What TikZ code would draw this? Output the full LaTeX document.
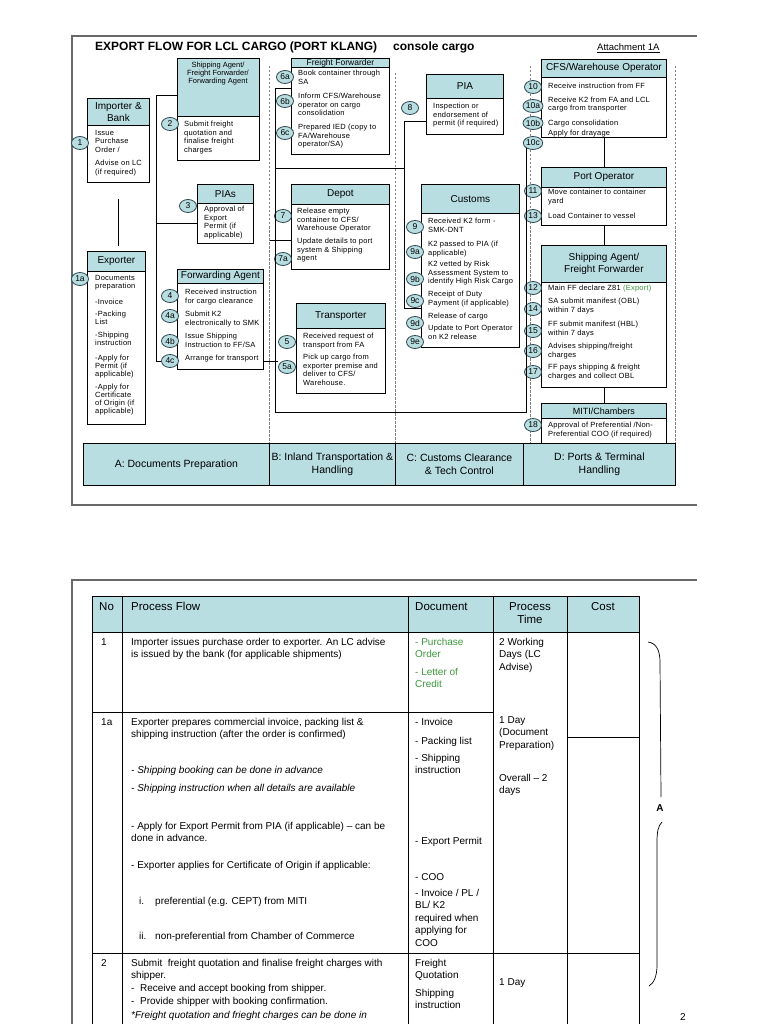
\documentclass[tikz,border=0pt]{standalone}
\usepackage{fontspec}
\setmainfont{Liberation Sans}
\newfontfamily\spacedsans[LetterSpace=3]{Liberation Sans}
\usetikzlibrary{shapes.geometric}

\definecolor{hdrfill}{RGB}{185,222,226}
\definecolor{numline}{RGB}{45,70,80}
\definecolor{docgreen}{RGB}{60,150,60}
\definecolor{framegray}{RGB}{105,105,105}

\newcommand{\smalltxt}{\spacedsans\fontsize{7.5}{8.6}\selectfont}
\newcommand{\headtxt}{\fontsize{10}{11.5}\selectfont}
\newcommand{\numtxt}{\fontsize{8.5}{9}\selectfont}
\newcommand{\secttxt}{\fontsize{10.5}{12.5}\selectfont}
\newcommand{\celltxt}{\fontsize{10}{12.5}\selectfont}
\newcommand{\cellhead}{\fontsize{11.5}{13.5}\selectfont}

\begin{document}
\begin{tikzpicture}[x=1pt, y=-1pt,
    hdr/.style={draw, line width=0.8pt, fill=hdrfill, anchor=north west, inner sep=1pt, align=center, font=\headtxt},
    bdy/.style={draw, line width=0.8pt, fill=white, anchor=north west, inner sep=0pt},
    num/.style={ellipse, draw=numline, line width=0.8pt, fill=hdrfill, inner sep=0pt, minimum width=17, minimum height=13, font=\numtxt},
    dtext/.style={anchor=north west, align=left, inner sep=0pt, font=\smalltxt},
    link/.style={line width=0.7pt},
    sepline/.style={draw=gray, line width=0.9pt, dash pattern=on 2.5pt off 1.5pt},
    sect/.style={draw, line width=0.8pt, fill=hdrfill, anchor=north west, align=center, inner sep=0pt, font=\secttxt},
    cell/.style={anchor=north west, align=left, inner sep=0pt, font=\celltxt},
    grid/.style={line width=0.8pt}]

\path[use as bounding box, fill=white] (0,0) rectangle (768,1024);

% top sheet
\draw[framegray, line width=1.5pt] (697,36) -- (72,36) -- (72,505) -- (697,505);
\node[anchor=west, inner sep=0pt, font=\bfseries\fontsize{12}{14}\selectfont] (title) at (95,47) {EXPORT FLOW FOR LCL CARGO (PORT KLANG)};
\node[anchor=west, inner sep=0pt, font=\bfseries\fontsize{12}{14}\selectfont] (subtitle) at (393,47) {console cargo};
\node[anchor=west, inner sep=0pt, font=\fontsize{9.5}{11}\selectfont] (attach) at (597,48) {\underline{Attachment 1A}};

% stage separators
\draw[sepline] (269,66) -- (269,443);
\draw[sepline] (395,73) -- (395,443);
\draw[sepline] (530,66) -- (530,443);
\draw[sepline] (675,66) -- (675,443);

% importer
\node[hdr, minimum width=62, minimum height=27] (impH) at (87,98) {Importer \&\\Bank};
\node[bdy, minimum width=62, minimum height=57] (impB) at (87,125) {};
\node[dtext] (impT1) at (95,130) {Issue\\Purchase\\Order /};
\node[dtext] (impT2) at (95,160) {Advise on LC\\(if required)};

% shipping agent (left)
\node[hdr, minimum width=82, minimum height=58] (saH) at (177,58) {};
\node[align=center, inner sep=0pt, anchor=north, font=\fontsize{7.5}{7.8}\selectfont] (saHT) at (218,62) {Shipping Agent/\\Freight Forwarder/\\Forwarding Agent};
\node[bdy, minimum width=82, minimum height=44] (saB) at (177,116) {};
\node[dtext] (saT) at (184,121) {Submit freight\\quotation and\\finalise freight\\charges};

% freight forwarder
\node[hdr, minimum width=98, minimum height=9, inner sep=0pt, font=\fontsize{8.5}{9}\selectfont] (ffH) at (291,58) {Freight Forwarder};
\node[bdy, minimum width=98, minimum height=87] (ffB) at (291,67) {};
\node[dtext] (ffT1) at (298,70) {Book container through\\SA};
\node[dtext] (ffT2) at (298,93) {Inform CFS/Warehouse\\operator on cargo\\consolidation};
\node[dtext] (ffT3) at (298,124) {Prepared IED (copy to\\FA/Warehouse\\operator/SA)};

% PIA
\node[hdr, minimum width=77, minimum height=24] (piaH) at (426,74) {PIA};
\node[bdy, minimum width=77, minimum height=36] (piaB) at (426,98) {};
\node[dtext] (piaT) at (433,103) {Inspection or\\endorsement of\\permit (if required)};

% CFS / warehouse
\node[hdr, minimum width=125, minimum height=18] (cfsH) at (541,59) {CFS/Warehouse Operator};
\node[bdy, minimum width=125, minimum height=60] (cfsB) at (541,77) {};
\node[dtext] (cfsT1) at (548,83) {Receive instruction from FF};
\node[dtext, font=\spacedsans\fontsize{7.5}{7.6}\selectfont] (cfsT2) at (548,97) {Receive K2 from FA and LCL\\cargo from transporter};
\node[dtext] (cfsT3) at (548,120) {Cargo consolidation};
\node[dtext] (cfsT4) at (548,130) {Apply for drayage};

% port operator
\node[hdr, minimum width=125, minimum height=20] (poH) at (541,167) {Port Operator};
\node[bdy, minimum width=125, minimum height=38] (poB) at (541,187) {};
\node[dtext] (poT1) at (548,189) {Move container to container\\yard};
\node[dtext] (poT2) at (548,213) {Load Container to vessel};

% shipping agent (right)
\node[hdr, minimum width=125, minimum height=37] (sa2H) at (541,245) {Shipping Agent/\\Freight Forwarder};
\node[bdy, minimum width=125, minimum height=105] (sa2B) at (541,282) {};
\node[dtext] (sa2T1) at (548,285) {Main FF declare Z81 \textcolor{docgreen}{(Export)}};
\node[dtext] (sa2T2) at (548,298) {SA submit manifest (OBL)\\within 7 days};
\node[dtext] (sa2T3) at (548,321) {FF submit manifest (HBL)\\within 7 days};
\node[dtext] (sa2T4) at (548,343) {Advises shipping/freight\\charges};
\node[dtext] (sa2T5) at (548,364) {FF pays shipping \& freight\\charges and collect OBL};

% MITI
\node[hdr, minimum width=125, minimum height=15, font=\fontsize{9}{10}\selectfont] (mitiH) at (541,403) {MITI/Chambers};
\node[bdy, minimum width=125, minimum height=25] (mitiB) at (541,418) {};
\node[dtext] (mitiT) at (548,422) {Approval of Preferential /Non-\\Preferential COO (if required)};

% PIAs
\node[hdr, minimum width=56, minimum height=19] (piasH) at (197,184) {PIAs};
\node[bdy, minimum width=56, minimum height=40] (piasB) at (197,203) {};
\node[dtext] (piasT) at (204,206) {Approval of\\Export\\Permit (if\\applicable)};

% exporter
\node[hdr, minimum width=58, minimum height=20] (expH) at (87,251) {Exporter};
\node[bdy, minimum width=58, minimum height=153] (expB) at (87,271) {};
\node[dtext, font=\spacedsans\fontsize{7.5}{8}\selectfont] (expT) at (95,275) {Documents\\preparation\\[8pt]-Invoice\\[4pt]-Packing\\List\\[5pt]-Shipping\\instruction\\[7pt]-Apply for\\Permit (if\\applicable)\\[5pt]-Apply for\\Certificate\\of Origin (if\\applicable)};

% forwarding agent
\node[hdr, minimum width=86, minimum height=14, inner sep=0pt] (faH) at (177,269) {Forwarding Agent};
\node[bdy, minimum width=86, minimum height=86] (faB) at (177,283) {};
\node[dtext] (faT1) at (185,289) {Received instruction\\for cargo clearance};
\node[dtext] (faT2) at (185,311) {Submit K2\\electronically to SMK};
\node[dtext] (faT3) at (185,333) {Issue Shipping\\Instruction to FF/SA};
\node[dtext] (faT4) at (185,355) {Arrange for transport};

% depot
\node[hdr, minimum width=98, minimum height=20] (depH) at (291,184) {Depot};
\node[bdy, minimum width=98, minimum height=65] (depB) at (291,204) {};
\node[dtext] (depT1) at (297,208) {Release empty\\container to CFS/\\Warehouse Operator};
\node[dtext] (depT2) at (297,238) {Update details to port\\system \& Shipping\\agent};

% transporter
\node[hdr, minimum width=89, minimum height=25] (trH) at (296,303) {Transporter};
\node[bdy, minimum width=89, minimum height=65] (trB) at (296,328) {};
\node[dtext] (trT1) at (303,333) {Received request of\\transport from FA};
\node[dtext] (trT2) at (303,354) {Pick up cargo from\\exporter premise and\\deliver to CFS/\\Warehouse.};

% customs
\node[hdr, minimum width=98, minimum height=29] (cusH) at (421,184) {Customs};
\node[bdy, minimum width=98, minimum height=134] (cusB) at (421,213) {};
\node[dtext] (cusT1) at (428,218) {Received K2 form -\\SMK-DNT};
\node[dtext] (cusT2) at (428,241) {K2 passed to PIA (if\\applicable)};
\node[dtext] (cusT3) at (428,261) {K2 vetted by Risk\\Assessment System to\\identify High Risk Cargo};
\node[dtext] (cusT4) at (428,291) {Receipt of Duty\\Payment (if applicable)};
\node[dtext] (cusT5) at (428,313) {Release of cargo};
\node[dtext] (cusT6) at (428,325) {Update to Port Operator\\on K2 release};

% stages
\node[sect, minimum width=186, minimum height=42] (secA) at (83,443) {A: Documents Preparation};
\node[sect, minimum width=126, minimum height=42] (secB) at (269,443) {B: Inland Transportation \&\\Handling};
\node[sect, minimum width=128, minimum height=42] (secC) at (395,443) {C: Customs Clearance\\\& Tech Control};
\node[sect, minimum width=152, minimum height=42] (secD) at (523,443) {D: Ports \& Terminal\\Handling};

% step numbers
\node[num] (n1) at (80,143) {1};
\node[num] (n2) at (170,124) {2};
\node[num] (n3) at (188,206) {3};
\node[num] (n1a) at (80,279) {1a};
\node[num] (n4) at (170,296) {4};
\node[num] (n4a) at (170,316) {4a};
\node[num] (n4b) at (170,341) {4b};
\node[num] (n4c) at (170,361) {4c};
\node[num] (n6a) at (285,77) {6a};
\node[num] (n6b) at (285,101) {6b};
\node[num] (n6c) at (285,133) {6c};
\node[num] (n7) at (283,216) {7};
\node[num] (n7a) at (283,259) {7a};
\node[num] (n5) at (287,342) {5};
\node[num] (n5a) at (287,367) {5a};
\node[num] (n8) at (410,108) {8};
\node[num] (n9) at (415,227) {9};
\node[num] (n9a) at (415,252) {9a};
\node[num] (n9b) at (415,279) {9b};
\node[num] (n9c) at (415,301) {9c};
\node[num] (n9d) at (415,323) {9d};
\node[num] (n9e) at (415,342) {9e};
\node[num] (n10) at (533,87) {10};
\node[num] (n10a) at (533,106) {10a};
\node[num] (n10b) at (533,123) {10b};
\node[num] (n10c) at (533,143) {10c};
\node[num] (n11) at (533,191) {11};
\node[num] (n13) at (533,216) {13};
\node[num] (n12) at (533,288) {12};
\node[num] (n14) at (533,309) {14};
\node[num] (n15) at (533,331) {15};
\node[num] (n16) at (533,351) {16};
\node[num] (n17) at (533,372) {17};
\node[num] (n18) at (533,425) {18};

% connectors
\draw[link, shorten <=16pt, shorten >=5pt] (impB.south) -- (impB.south |- expH.north);
\coordinate (spine) at (156,95);
\draw[link] (spine -| saH.west) -- (spine) -- (spine |- n4c) -- (n4c.west);
\draw[link] (spine |- piasB.west) -- (piasB.west);
\draw[link] (n4c -| faB.east) -- (n4c -| n5a.west);
\coordinate (bus) at (275,88);
\coordinate (busMid) at (275,168);
\coordinate (busEnd) at (275,412);
\draw[link] (bus -| ffB.west) -- (bus) -- (busEnd) -| (n10c.south west);
\draw[link] (busMid) -- (busMid -| 404,0);
\coordinate (piaBus) at (404,121);
\draw[link] (piaBus -| piaB.west) -- (piaBus) |- (n9c.south -| cusB.west);
\coordinate (depIn) at (270,240);
\draw[link] (depIn) -- (depIn -| depB.west);
\draw[link] (cfsB.south) -- (poH.north);
\draw[link] (poB.south) -- (sa2H.north);
\draw[link] (sa2B.south) -- (mitiH.north);

% table sheet
\draw[framegray, line width=1.5pt] (697,580) -- (72,580) -- (72,1024);
\fill[hdrfill] (92,596) rectangle (639,632);
\foreach \cx in {92,122,408,493,567,639}
  \draw[grid] (\cx,596) -- (\cx,1024);
\draw[grid] (92,596) -- (639,596);
\draw[grid] (92,632) -- (639,632);
\draw[grid] (92,712) -- (493,712);
\draw[grid] (567,737) -- (639,737);
\draw[grid] (92,953) -- (639,953);

\node[cell, font=\cellhead] (hNo) at (99,602) {No};
\node[cell, font=\cellhead] (hFlow) at (131,602) {Process Flow};
\node[cell, font=\cellhead] (hDoc) at (415,602) {Document};
\node[cell, font=\cellhead, anchor=north, align=center] (hTime) at (530,602) {Process\\Time};
\node[cell, font=\cellhead, anchor=north] (hCost) at (603,602) {Cost};

\node[cell] (r1No) at (101,638) {1};
\node[cell] (r1Flow) at (131,638) {Importer issues purchase order to exporter. An LC advise\\is issued by the bank (for applicable shipments)};
\node[cell, text=docgreen] (r1Doc) at (415,638) {- Purchase\\Order};
\node[cell, text=docgreen] (r1Doc2) at (415,668) {- Letter of\\Credit};
\node[cell] (r1Time) at (499,638) {2 Working\\Days (LC\\Advise)};

\node[cell] (r1aNo) at (101,718) {1a};
\node[cell] (r1aFlow) at (131,718) {Exporter prepares commercial invoice, packing list \&\\shipping instruction (after the order is confirmed)};
\node[cell, font=\celltxt\itshape] (r1aNote1) at (131,766) {- Shipping booking can be done in advance};
\node[cell, font=\celltxt\itshape] (r1aNote2) at (131,784) {- Shipping instruction when all details are available};
\node[cell] (r1aPermit) at (131,822) {- Apply for Export Permit from PIA (if applicable) -- can be\\done in advance.};
\node[cell] (r1aCoo) at (131,861) {- Exporter applies for Certificate of Origin if applicable:};
\node[cell] (r1aPref) at (139,897) {\makebox[16pt][l]{i.}preferential (e.g. CEPT) from MITI};
\node[cell] (r1aNon) at (139,932) {\makebox[16pt][l]{ii.}non-preferential from Chamber of Commerce};
\node[cell] (r1aDoc1) at (415,718) {- Invoice};
\node[cell] (r1aDoc2) at (415,737) {- Packing list};
\node[cell] (r1aDoc3) at (415,754) {- Shipping\\instruction};
\node[cell] (r1aDoc4) at (415,837) {- Export Permit};
\node[cell] (r1aDoc5) at (415,873) {- COO};
\node[cell] (r1aDoc6) at (415,889) {- Invoice / PL /\\BL/ K2\\required when\\applying for\\COO};
\node[cell] (r1aTime) at (499,716) {1 Day\\(Document\\Preparation)};
\node[cell] (r1aTime2) at (499,774) {Overall -- 2\\days};

\node[cell] (r2No) at (101,959) {2};
\node[cell] (r2Flow) at (131,959) {Submit\ \ freight quotation and finalise freight charges with\\shipper.};
\node[cell, font=\fontsize{10}{13.5}\selectfont] (r2Flow2) at (131,984) {-\ \ Receive and accept booking from shipper.\\-\ \ Provide shipper with booking confirmation.};
\node[cell, font=\celltxt\itshape] (r2Flow3) at (131,1011) {*Freight quotation and frieght charges can be done in};
\node[cell] (r2Doc) at (415,959) {Freight\\Quotation};
\node[cell] (r2Doc2) at (415,989) {Shipping\\instruction};
\node[cell] (r2Time) at (499,978) {1 Day};

% stage A brace
\node[font=\bfseries\fontsize{10}{12}\selectfont] (braceA) at (660,808) {A};
\draw[line width=0.7pt] (648,642) .. controls (656,643) and (660,650) .. (660,662) -- (661,797);
\draw[line width=0.7pt] (662,822) .. controls (658,826) and (657,832) .. (657,842) -- (657,965) .. controls (657,976) and (654,983) .. (649,986);
\node[font=\fontsize{10}{12}\selectfont] (pageNo) at (683,1017) {2};

\end{tikzpicture}
\end{document}
